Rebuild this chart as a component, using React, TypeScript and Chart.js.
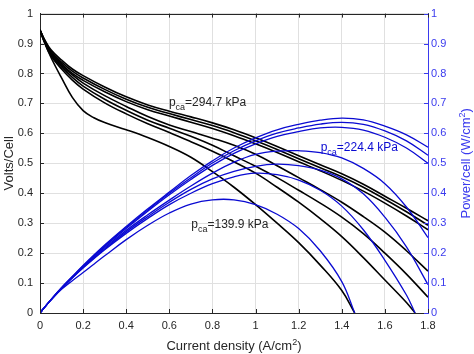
import React, { useEffect, useRef } from 'react';
import { Chart, registerables } from 'chart.js';

Chart.register(...registerables);

// ---------- data ----------
const currentDensity = [0, 0.02, 0.05, 0.1, 0.15, 0.2, 0.3, 0.4, 0.5, 0.6, 0.7, 0.8, 0.9, 1.0, 1.1, 1.2, 1.3, 1.4, 1.5, 1.6, 1.7, 1.8];
const currentDensity6 = [0, 0.02, 0.05, 0.1, 0.15, 0.2, 0.3, 0.4, 0.5, 0.6, 0.7, 0.8, 0.9, 1.0, 1.1, 1.2, 1.3, 1.4, 1.5, 1.6, 1.7, 1.74];
const currentDensity7 = [0, 0.02, 0.05, 0.1, 0.15, 0.2, 0.25, 0.3, 0.4, 0.5, 0.6, 0.7, 0.8, 0.9, 1.0, 1.1, 1.2, 1.3, 1.4, 1.46];

const voltage1 = [0.945, 0.915, 0.88, 0.845, 0.815, 0.793, 0.755, 0.722, 0.695, 0.674, 0.655, 0.635, 0.612, 0.585, 0.556, 0.525, 0.495, 0.465, 0.43, 0.39, 0.35, 0.308];
const voltage2 = [0.945, 0.913, 0.875, 0.838, 0.808, 0.785, 0.747, 0.714, 0.687, 0.666, 0.646, 0.626, 0.602, 0.575, 0.546, 0.515, 0.485, 0.455, 0.42, 0.38, 0.338, 0.293];
const voltage3 = [0.945, 0.911, 0.87, 0.832, 0.8, 0.777, 0.739, 0.706, 0.679, 0.658, 0.637, 0.616, 0.592, 0.565, 0.536, 0.505, 0.475, 0.443, 0.407, 0.367, 0.324, 0.278];
const voltage4 = [0.945, 0.91, 0.868, 0.828, 0.795, 0.768, 0.726, 0.69, 0.656, 0.628, 0.606, 0.584, 0.56, 0.53, 0.492, 0.452, 0.412, 0.37, 0.322, 0.27, 0.208, 0.14];
const voltage5 = [0.945, 0.908, 0.864, 0.822, 0.787, 0.758, 0.714, 0.677, 0.644, 0.617, 0.59, 0.56, 0.525, 0.49, 0.452, 0.41, 0.367, 0.32, 0.265, 0.2, 0.13, 0.053];
const voltage6 = [0.945, 0.906, 0.86, 0.815, 0.778, 0.748, 0.702, 0.665, 0.632, 0.603, 0.572, 0.54, 0.505, 0.467, 0.42, 0.37, 0.315, 0.255, 0.185, 0.11, 0.035, 0];
const voltage7 = [0.945, 0.905, 0.855, 0.785, 0.72, 0.676, 0.652, 0.636, 0.612, 0.586, 0.556, 0.52, 0.472, 0.42, 0.362, 0.3, 0.235, 0.16, 0.075, 0];

const power1 = [0, 0.018, 0.044, 0.085, 0.122, 0.159, 0.227, 0.289, 0.348, 0.404, 0.459, 0.508, 0.551, 0.585, 0.612, 0.63, 0.644, 0.651, 0.645, 0.624, 0.595, 0.554];
const power2 = [0, 0.018, 0.044, 0.084, 0.121, 0.157, 0.224, 0.286, 0.344, 0.4, 0.452, 0.501, 0.542, 0.575, 0.601, 0.618, 0.631, 0.637, 0.63, 0.608, 0.575, 0.527];
const power3 = [0, 0.018, 0.044, 0.083, 0.12, 0.155, 0.222, 0.282, 0.34, 0.395, 0.446, 0.493, 0.533, 0.565, 0.59, 0.606, 0.618, 0.62, 0.611, 0.587, 0.551, 0.5];
const power4 = [0, 0.018, 0.043, 0.083, 0.119, 0.154, 0.218, 0.276, 0.328, 0.377, 0.424, 0.467, 0.504, 0.53, 0.541, 0.542, 0.536, 0.518, 0.483, 0.432, 0.354, 0.252];
const power5 = [0, 0.018, 0.043, 0.082, 0.118, 0.152, 0.214, 0.271, 0.322, 0.37, 0.413, 0.448, 0.473, 0.49, 0.497, 0.492, 0.477, 0.448, 0.398, 0.32, 0.221, 0.095];
const power6 = [0, 0.018, 0.043, 0.082, 0.117, 0.15, 0.211, 0.266, 0.316, 0.362, 0.4, 0.432, 0.455, 0.467, 0.462, 0.444, 0.41, 0.357, 0.278, 0.176, 0.06, 0];
const power7 = [0, 0.018, 0.043, 0.079, 0.108, 0.135, 0.163, 0.191, 0.245, 0.293, 0.334, 0.364, 0.378, 0.378, 0.362, 0.33, 0.282, 0.208, 0.105, 0];

const xTicks = [0, 0.2, 0.4, 0.6, 0.8, 1, 1.2, 1.4, 1.6, 1.8];
const voltTicks = [0, 0.1, 0.2, 0.3, 0.4, 0.5, 0.6, 0.7, 0.8, 0.9, 1];
const powerTicks = [0, 0.1, 0.2, 0.3, 0.4, 0.5, 0.6, 0.7, 0.8, 0.9, 1];

const annotationValues = ['=294.7 kPa', '=224.4 kPa', '=139.9 kPa'];
const annotationCurrent = [0.598, 1.302, 0.702];
const annotationLevel = [0.707, 0.555, 0.298];

// ---------- styles ----------
const FONT = "'Liberation Sans', Arial, Helvetica, sans-serif";
const AXIS = '#262626';
const BLUE_LINE = '#0a0ad2';
const BLUE_AXIS = '#3a3aee';
const GRID = '#e0e0e0';

const toPoints = (xs: number[], ys: number[]) => xs.map((x, i) => ({ x, y: ys[i] }));

type Part = { t: string; size: number; dy: number };

function drawParts(ctx: CanvasRenderingContext2D, parts: Part[], x: number, y: number, align: 'left' | 'center') {
  let total = 0;
  const widths = parts.map((p) => {
    ctx.font = `${p.size}px ${FONT}`;
    const w = ctx.measureText(p.t).width;
    total += w;
    return w;
  });
  let cx = align === 'center' ? x - total / 2 : x;
  ctx.textBaseline = 'alphabetic';
  ctx.textAlign = 'left';
  parts.forEach((p, i) => {
    ctx.font = `${p.size}px ${FONT}`;
    ctx.fillText(p.t, cx, y + p.dy);
    cx += widths[i];
  });
}

const overlay = {
  id: 'overlay',
  afterDraw(chart: any) {
    const { ctx, chartArea: ca, scales } = chart;
    const sx = scales.x;
    const sy = scales.y;
    const sy1 = scales.y1;
    ctx.save();
    ctx.lineWidth = 1;
    ctx.strokeStyle = AXIS;
    ctx.beginPath();
    ctx.moveTo(ca.left, Math.round(ca.top) + 0.5);
    ctx.lineTo(ca.right, Math.round(ca.top) + 0.5);
    ctx.stroke();
    ctx.beginPath();
    xTicks.forEach((v) => {
      const px = Math.round(sx.getPixelForValue(v)) + 0.5;
      ctx.moveTo(px, ca.bottom);
      ctx.lineTo(px, ca.bottom - 4);
      ctx.moveTo(px, ca.top);
      ctx.lineTo(px, ca.top + 4);
    });
    voltTicks.forEach((v) => {
      const py = Math.round(sy.getPixelForValue(v)) + 0.5;
      ctx.moveTo(ca.left, py);
      ctx.lineTo(ca.left + 4, py);
    });
    ctx.stroke();
    ctx.strokeStyle = BLUE_AXIS;
    ctx.beginPath();
    powerTicks.forEach((v) => {
      const py = Math.round(sy1.getPixelForValue(v)) + 0.5;
      ctx.moveTo(ca.right, py);
      ctx.lineTo(ca.right - 4, py);
    });
    ctx.stroke();

    ctx.fillStyle = AXIS;
    const cxTitle = (ca.left + ca.right) / 2;
    drawParts(ctx, [
      { t: 'Current density (A/cm', size: 13, dy: 0 },
      { t: '2', size: 9, dy: -5 },
      { t: ')', size: 13, dy: 0 },
    ], cxTitle, 350, 'center');

    const cyTitle = (ca.top + ca.bottom) / 2;
    ctx.save();
    ctx.translate(12.5, cyTitle);
    ctx.rotate(-Math.PI / 2);
    drawParts(ctx, [{ t: 'Volts/Cell', size: 13, dy: 0 }], 0, 0, 'center');
    ctx.restore();

    ctx.save();
    ctx.fillStyle = BLUE_AXIS;
    ctx.translate(469.5, cyTitle);
    ctx.rotate(-Math.PI / 2);
    drawParts(ctx, [
      { t: 'Power/cell (W/cm', size: 13, dy: 0 },
      { t: '2', size: 9, dy: -5 },
      { t: ')', size: 13, dy: 0 },
    ], 0, 0, 'center');
    ctx.restore();

    const colors = [AXIS, BLUE_LINE, AXIS];
    annotationValues.forEach((val, i) => {
      const ax = sx.getPixelForValue(annotationCurrent[i]);
      const ay = sy.getPixelForValue(annotationLevel[i]) + 4.3;
      ctx.fillStyle = colors[i];
      drawParts(ctx, [
        { t: 'p', size: 12, dy: 0 },
        { t: 'ca', size: 9, dy: 4 },
        { t: val, size: 12, dy: 0 },
      ], ax, ay, 'left');
    });
    ctx.restore();
  },
};

export default function App() {
  const ref = useRef<HTMLCanvasElement | null>(null);

  useEffect(() => {
    document.body.style.margin = '0';
    if (!ref.current) return;
    const black = (xs: number[], ys: number[]) => ({
      data: toPoints(xs, ys),
      yAxisID: 'y',
      borderColor: '#000000',
      borderWidth: 1.6,
      pointRadius: 0,
      fill: false,
      tension: 0.4,
      order: 2,
    });
    const blue = (xs: number[], ys: number[]) => ({
      data: toPoints(xs, ys),
      yAxisID: 'y1',
      borderColor: BLUE_LINE,
      borderWidth: 1.3,
      pointRadius: 0,
      fill: false,
      tension: 0.4,
      order: 1,
    });
    const chart = new Chart(ref.current, {
      type: 'line',
      data: {
        datasets: [
          black(currentDensity, voltage1),
          black(currentDensity, voltage2),
          black(currentDensity, voltage3),
          black(currentDensity, voltage4),
          black(currentDensity, voltage5),
          black(currentDensity6, voltage6),
          black(currentDensity7, voltage7),
          blue(currentDensity, power1),
          blue(currentDensity, power2),
          blue(currentDensity, power3),
          blue(currentDensity, power4),
          blue(currentDensity, power5),
          blue(currentDensity6, power6),
          blue(currentDensity7, power7),
        ] as any,
      },
      options: {
        animation: false,
        responsive: false,
        maintainAspectRatio: false,
        events: [],
        layout: { padding: { top: 7, left: 0, right: 0, bottom: 0 } },
        plugins: { legend: { display: false }, tooltip: { enabled: false }, title: { display: false } },
        scales: {
          x: {
            type: 'linear',
            min: 0,
            max: 1.8,
            afterBuildTicks: (s: any) => { s.ticks = xTicks.map((v) => ({ value: v })); },
            ticks: { font: { size: 11, family: FONT }, color: AXIS, padding: 6, maxRotation: 0, autoSkip: false, callback: (v: any) => String(v) },
            grid: { color: GRID, drawTicks: false, lineWidth: 1 },
            border: { color: AXIS, width: 1 },
            afterFit: (s: any) => { s.height = 41; },
          },
          y: {
            type: 'linear',
            position: 'left',
            min: 0,
            max: 1,
            afterBuildTicks: (s: any) => { s.ticks = voltTicks.map((v) => ({ value: v })); },
            ticks: { font: { size: 11, family: FONT }, color: AXIS, padding: 7, autoSkip: false, callback: (v: any) => String(v) },
            grid: { color: GRID, drawTicks: false, lineWidth: 1 },
            border: { color: AXIS, width: 1 },
            afterFit: (s: any) => { s.width = 40; },
          },
          y1: {
            type: 'linear',
            position: 'right',
            min: 0,
            max: 1,
            afterBuildTicks: (s: any) => { s.ticks = powerTicks.map((v) => ({ value: v })); },
            ticks: { font: { size: 11, family: FONT }, color: BLUE_AXIS, padding: 3, autoSkip: false, callback: (v: any) => String(v) },
            grid: { display: false, drawTicks: false },
            border: { color: BLUE_AXIS, width: 1 },
            afterFit: (s: any) => { s.width = 46; },
          },
        },
      } as any,
      plugins: [overlay],
    });
    return () => chart.destroy();
  }, []);

  return (
    <div style={{ width: 474, height: 354 }}>
      <canvas ref={ref} width={474} height={354} style={{ display: 'block', width: 474, height: 354 }} />
    </div>
  );
}
